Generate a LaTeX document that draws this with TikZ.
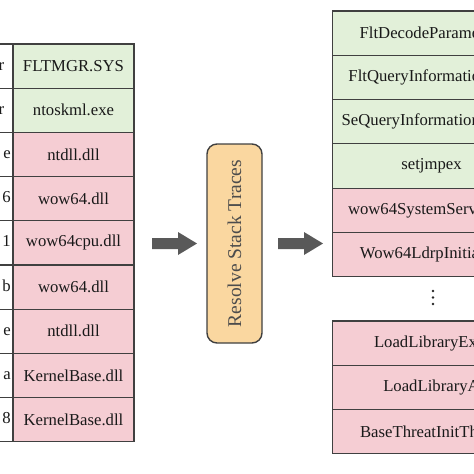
\documentclass[tikz,border=0pt]{standalone}
\usepackage{fontspec}
\setmainfont{Liberation Serif}
\usetikzlibrary{positioning}
\definecolor{cellgreen}{HTML}{E2F0D9}
\definecolor{cellpink}{HTML}{F5CDD3}
\definecolor{boxorange}{HTML}{FAD7A0}
\definecolor{linegray}{HTML}{404040}
\definecolor{arrowgray}{HTML}{595959}
\def\blockarrow(#1,#2){\fill[arrowgray] (#1,#2) ++(0,-5.5) -- ++(26,0) -- ++(0,-6) -- ++(19,11.5) -- ++(-19,11.5) -- ++(0,-6) -- ++(-26,0) -- cycle;}

\begin{document}
\begin{tikzpicture}[x=1pt, y=-1pt,
	cell/.style={draw=linegray, line width=1.1pt, fill=white, inner sep=0pt,
		minimum height=44.2pt, text=black!90, font=\fontsize{16.7}{19}\selectfont},
	rcell/.style={cell, minimum width=198pt, minimum height=44.3pt},
	celltext/.style={inner sep=0pt, text=black!90, text height=11.5pt, text depth=3.5pt,
		font=\fontsize{16.7}{19}\selectfont},
	resolvebox/.style={draw=linegray, line width=1.4pt, fill=boxorange, rounded corners=10pt,
		rotate=90, minimum width=199pt, minimum height=55pt, inner sep=0pt,
		text=black!70, font=\fontsize{19.5}{22}\selectfont}]
	%%%%% START %%%%%
	\useasboundingbox (0,0) rectangle (474,474);
	\clip (0,0) rectangle (474,474);
	
	% left table
	\foreach \name/\col/\addr/\ax [count=\i] in {FLTMGR.SYS/cellgreen/r/4.5, ntoskml.exe/cellgreen/r/4.5,
		ntdll.dll/cellpink/e/11, wow64.dll/cellpink/6/11, wow64cpu.dll/cellpink/1/11, wow64.dll/cellpink/b/11,
		ntdll.dll/cellpink/e/11, KernelBase.dll/cellpink/a/11, KernelBase.dll/cellpink/8/11}{
		\pgfmathsetmacro\yc{44+44.2*(\i-0.5)}
		\node[cell, minimum width=73pt] (la\i) at (-23.5,\yc) {};
		\node[cell, fill=\col, minimum width=121pt] (lm\i) at (73.5,\yc) {\name};
		\node[celltext, anchor=east] (lt\i) at (\ax,\yc) {\addr};
	}
	
	\blockarrow(152,243.5)
	
	\node[resolvebox] (resolve) at (234.5,243.5) {Resolve Stack Traces};
	
	\blockarrow(278,243.5)
	
	% right table, upper part
	\foreach \name/\col [count=\i] in {FltDecodeParameters/cellgreen, FltQueryInformationFile/cellgreen,
		SeQueryInformationToken/cellgreen, setjmpex/cellgreen, wow64SystemServiceEx/cellpink,
		Wow64LdrpInitialize/cellpink}{
		\pgfmathsetmacro\yc{11+44.3*(\i-0.5)}
		\node[rcell, fill=\col] (ru\i) at (431.5,\yc) {\name};
	}
	
	\foreach \dy in {291,297.5,304}
		\fill[black!85] (433,\dy) circle (1.3);
	
	% right table, lower part
	\foreach \name/\col [count=\i] in {LoadLibraryExA/cellpink, LoadLibraryA/cellpink,
		BaseThreatInitThunk/cellpink}{
		\pgfmathsetmacro\yc{321+44.3*(\i-0.5)}
		\node[rcell, fill=\col] (rl\i) at (431.5,\yc) {\name};
	}
	%%%%% END %%%%%
\end{tikzpicture}
\end{document}
